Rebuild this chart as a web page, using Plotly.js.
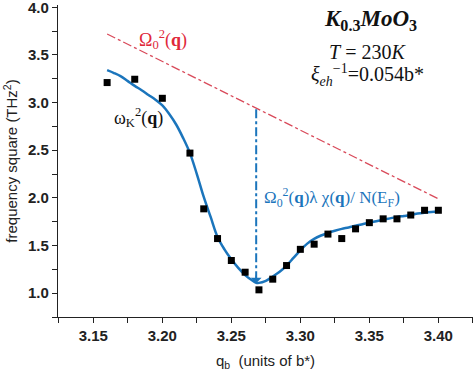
<!DOCTYPE html>
<html>
<head>
<meta charset="utf-8">
<script src="https://cdn.plot.ly/plotly-3.0.1.min.js"></script>
<style>html,body{margin:0;padding:0;background:#fff}#chart{width:474px;height:372px}</style>
</head>
<body>
<div id="chart"></div>
<script>
// measured points
const qData = [3.16,3.18,3.20,3.22,3.23,3.24,3.25,3.26,3.27,3.28,3.29,3.30,3.31,3.32,3.33,3.34,3.35,3.36,3.37,3.38,3.39,3.40];
const fData = [3.21,3.245,3.045,2.47,1.885,1.573,1.343,1.22,1.035,1.147,1.29,1.46,1.514,1.62,1.573,1.675,1.74,1.78,1.78,1.82,1.87,1.87];
// fitted curve omega_K^2(q)
const qFit = [3.160,3.165,3.170,3.175,3.180,3.185,3.190,3.195,3.200,3.205,3.210,3.215,3.220,3.225,3.230,3.235,3.240,3.245,3.250,3.255,3.260,3.265,3.268,3.270,3.275,3.280,3.285,3.290,3.295,3.300,3.305,3.310,3.315,3.320,3.325,3.330,3.335,3.340,3.345,3.350,3.355,3.360,3.365,3.370,3.375,3.380,3.385,3.390,3.395,3.400];
const fFit = [3.34,3.31,3.275,3.225,3.175,3.13,3.08,3.03,2.97,2.88,2.77,2.63,2.47,2.25,2.01,1.80,1.59,1.46,1.355,1.265,1.19,1.135,1.11,1.108,1.13,1.175,1.225,1.29,1.37,1.45,1.52,1.57,1.605,1.632,1.655,1.675,1.69,1.708,1.724,1.74,1.755,1.77,1.785,1.80,1.81,1.82,1.835,1.845,1.852,1.857];
// bare phonon Omega_0^2(q)
const qOmega = [3.16, 3.40];
const fOmega = [3.72, 1.99];
// vertical renormalisation arrow
const qArrow = [3.268, 3.268];
const fArrow = [2.93, 1.13];

const xTicks = [3.15,3.20,3.25,3.30,3.35,3.40];
const xTickText = ['3.15','3.20','3.25','3.30','3.35','3.40'];
const yTicks = [1.0,1.5,2.0,2.5,3.0,3.5,4.0];
const yTickText = ['1.0','1.5','2.0','2.5','3.0','3.5','4.0'];

const blue = '#1b75bc';
const red = '#e0283a';
const serif = 'Liberation Serif, Times New Roman, serif';
const sans = 'Liberation Sans, Arial, sans-serif';
const bold = t => '<b>' + t + '</b>';

const traces = [
  {x: qOmega, y: fOmega, mode: 'lines', line: {color: '#d94a5a', width: 1.3, dash: 'dashdot'}, hoverinfo: 'skip'},
  {x: qArrow, y: fArrow, mode: 'lines', line: {color: blue, width: 2, dash: 'dashdot'}, hoverinfo: 'skip'},
  {x: qFit, y: fFit, mode: 'lines', line: {color: blue, width: 2.5, shape: 'spline'}, hoverinfo: 'skip'},
  {x: qData, y: fData, mode: 'markers', marker: {symbol: 'square', size: 7, color: '#000'}}
];

const layout = {
  width: 474, height: 372,
  margin: {l: 58, r: 1, t: 5, b: 55},
  paper_bgcolor: '#fff', plot_bgcolor: '#fff',
  showlegend: false,
  xaxis: {
    range: [3.1244, 3.4251], showgrid: false, zeroline: false,
    showline: true, linecolor: '#222', linewidth: 1.2,
    tickmode: 'array', tickvals: xTicks, ticktext: xTickText.map(bold),
    ticks: 'outside', ticklen: 5, tickcolor: '#222', tickwidth: 1,
    ticklabeloverflow: 'allow',
    minor: {dtick: 0.025, tick0: 3.125, ticks: 'outside', ticklen: 5, tickcolor: '#222', showgrid: false},
    tickfont: {family: sans, size: 15, color: '#222'},
    title: {text: 'q<sub>b</sub>  (units of b*)', font: {family: sans, size: 15, color: '#222'}, standoff: 12}
  },
  yaxis: {
    range: [0.75, 4.024], showgrid: false, zeroline: false,
    showline: true, linecolor: '#222', linewidth: 1.2,
    tickmode: 'array', tickvals: yTicks, ticktext: yTickText.map(bold),
    ticks: 'outside', ticklen: 5, tickcolor: '#222', tickwidth: 1,
    ticklabeloverflow: 'allow',
    minor: {dtick: 0.25, tick0: 0.75, ticks: 'outside', ticklen: 5, tickcolor: '#222', showgrid: false},
    tickfont: {family: sans, size: 15, color: '#222'},
    title: {text: 'frequency square (THz<sup>2</sup>)', font: {family: sans, size: 15, color: '#222'}, standoff: 6}
  },
  annotations: [
    {x: 3.268, y: 1.105, ax: 3.268, ay: 1.2, axref: 'x', ayref: 'y', xref: 'x', yref: 'y', text: '', showarrow: true, arrowhead: 1, arrowsize: 1.2, arrowwidth: 1.5, arrowcolor: blue, standoff: 0},
    {x: 3.1817, y: 3.658, xref: 'x', yref: 'y', xanchor: 'left', yanchor: 'middle', showarrow: false,
     text: 'Ω<sub>0</sub><sup>2</sup>(<b>q</b>)', font: {family: serif, size: 18, color: red}},
    {x: 3.1636, y: 2.84, xref: 'x', yref: 'y', xanchor: 'left', yanchor: 'middle', showarrow: false,
     text: 'ω<sub>K</sub><sup>2</sup>(<b>q</b>)', font: {family: serif, size: 18, color: '#111'}},
    {x: 3.2722, y: 2.0, xref: 'x', yref: 'y', xanchor: 'left', yanchor: 'middle', showarrow: false,
     text: 'Ω<sub>0</sub><sup>2</sup>(<b>q</b>)λ χ(<b>q</b>)/ N(E<sub>F</sub>)', font: {family: serif, size: 17, color: blue}},
    {x: 3.3505, y: 3.868, xref: 'x', yref: 'y', xanchor: 'center', yanchor: 'middle', showarrow: false,
     text: '<b><i>K</i></b><sub><b>0.3</b></sub><b><i>MoO</i></b><sub><b>3</b></sub>', font: {family: serif, size: 23, color: '#111'}},
    {x: 3.349, y: 3.532, xref: 'x', yref: 'y', xanchor: 'center', yanchor: 'middle', showarrow: false,
     text: '<i>T</i> = 230<i>K</i>', font: {family: serif, size: 20, color: '#111'}},
    {x: 3.349, y: 3.29, xref: 'x', yref: 'y', xanchor: 'center', yanchor: 'middle', showarrow: false,
     text: '<i>ξ</i><sub><i>eh</i></sub><sup>−1</sup>=0.054b*', font: {family: serif, size: 20, color: '#111'}}
  ]
};

Plotly.newPlot('chart', traces, layout, {displayModeBar: false, staticPlot: true});
</script>
</body>
</html>
